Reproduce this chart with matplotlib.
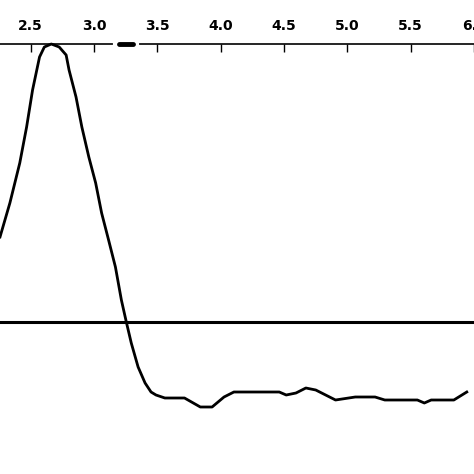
import numpy as np
import matplotlib
matplotlib.use("Agg")
import matplotlib.pyplot as plt

# curve (x on the top axis, y in arbitrary units, reference line at 0)
x_vals = [2.259, 2.337, 2.415, 2.469, 2.516, 2.571, 2.609, 2.664, 2.726, 2.781,
          2.804, 2.859, 2.905, 2.960, 3.014, 3.061, 3.116, 3.170, 3.217, 3.256,
          3.295, 3.349, 3.404, 3.451, 3.490, 3.560, 3.715, 3.840, 3.933, 4.027,
          4.105, 4.463, 4.518, 4.595, 4.673, 4.751, 4.907, 5.063, 5.219, 5.296,
          5.553, 5.608, 5.662, 5.841, 5.943]
y_vals = [0.85, 1.19, 1.59, 1.95, 2.32, 2.65, 2.75, 2.78, 2.75, 2.67,
          2.52, 2.25, 1.95, 1.65, 1.39, 1.09, 0.82, 0.55, 0.22, 0.00,
          -0.21, -0.45, -0.61, -0.70, -0.73, -0.76, -0.76, -0.85, -0.85, -0.75,
          -0.70, -0.70, -0.73, -0.71, -0.66, -0.68, -0.78, -0.75, -0.75, -0.78,
          -0.78, -0.81, -0.78, -0.78, -0.70]

ref_level = 0.0
tick_vals = [2.5, 3.0, 3.5, 4.0, 4.5, 5.0, 5.5, 6.0]
tick_labels = ["2.5", "3.0", "3.5", "4.0", "4.5", "5.0", "5.5", "6.0"]
# small dash sitting on the top axis
dash_x = [3.200, 3.310]

x_lim = (2.259, 5.951)
y_lim = (-1.52, 2.78)

fig = plt.figure(figsize=(4.74, 4.74), dpi=100)
ax = fig.add_axes([0, 0, 1, 430 / 474])

ax.plot(x_vals, y_vals, color="black", lw=2.0, clip_on=False, solid_joinstyle="round")
ax.axhline(ref_level, color="black", lw=2.2)

# the dash on the axis (white gap behind it)
ax.plot([dash_x[0] - 0.03, dash_x[1] + 0.03], [y_lim[1]] * 2, color="white", lw=3,
        clip_on=False, zorder=5)
ax.plot(dash_x, [y_lim[1]] * 2, color="black", lw=3.5, solid_capstyle="round",
        clip_on=False, zorder=6)

ax.set_xlim(*x_lim)
ax.set_ylim(*y_lim)

ax.xaxis.tick_top()
ax.set_xticks(tick_vals)
ax.set_xticklabels(tick_labels, fontsize=10, fontweight="bold")
ax.tick_params(axis="x", direction="in", length=6, width=1, pad=8)
ax.set_yticks([])

for side in ["left", "right", "bottom"]:
    ax.spines[side].set_visible(False)
ax.spines["top"].set_linewidth(1.2)

fig.savefig("out.png", dpi=100)
